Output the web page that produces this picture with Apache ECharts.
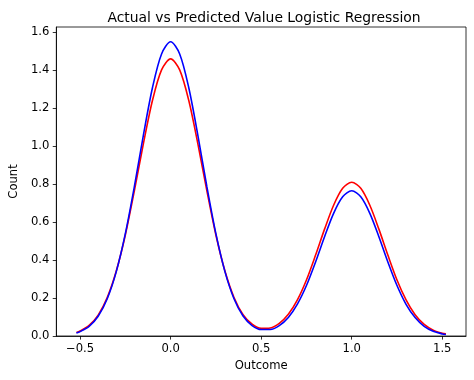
<!DOCTYPE html>
<html>
<head>
<meta charset="utf-8">
<script src="https://cdn.jsdelivr.net/npm/echarts@6/dist/echarts.min.js"></script>
<style>html,body{margin:0;padding:0;background:#fff;}#c{width:474px;height:380px;}</style>
</head>
<body>
<div id="c"></div>
<script>
const titleText = 'Actual vs Predicted Value Logistic Regression';
const xValues = [-0.52,-0.5,-0.45,-0.4,-0.35,-0.3,-0.25,-0.2,-0.15,-0.1,-0.05,0,0.05,0.1,0.15,0.2,0.25,0.3,0.35,0.4,0.45,0.5,0.55,0.6,0.65,0.7,0.75,0.8,0.85,0.9,0.95,1.0,1.05,1.1,1.15,1.2,1.25,1.3,1.35,1.4,1.45,1.5,1.52];
const actualValues = [0.018,0.026,0.056,0.110,0.202,0.342,0.532,0.766,1.015,1.242,1.402,1.460,1.402,1.242,1.015,0.766,0.532,0.342,0.203,0.112,0.062,0.040,0.042,0.066,0.114,0.190,0.295,0.425,0.563,0.689,0.778,0.810,0.778,0.689,0.563,0.425,0.295,0.190,0.112,0.061,0.031,0.014,0.011];
const predictedValues = [0.016,0.023,0.051,0.104,0.196,0.339,0.539,0.788,1.060,1.309,1.486,1.550,1.486,1.309,1.060,0.788,0.539,0.339,0.196,0.105,0.055,0.034,0.034,0.055,0.098,0.168,0.266,0.389,0.523,0.646,0.733,0.765,0.733,0.646,0.523,0.389,0.266,0.167,0.097,0.051,0.025,0.011,0.008];
const xTicks = [-0.5, 0, 0.5, 1.0, 1.5];
const yTicks = [0, 0.2, 0.4, 0.6, 0.8, 1.0, 1.2, 1.4, 1.6];

const font = 'DejaVu Sans';
const fmt = v => v.toFixed(1).replace('-', '\u2212');
const chart = echarts.init(document.getElementById('c'), null, {renderer: 'canvas'});
chart.setOption({
  animation: false,
  backgroundColor: '#fff',
  title: {
    text: titleText, left: 259, top: 6, textAlign: 'center',
    textStyle: {fontFamily: font, fontSize: 13.9, fontWeight: 'normal', color: '#000'}
  },
  grid: {left: 52, right: 8, top: 27, bottom: 44, show: true, borderColor: '#000', borderWidth: 0.8, containLabel: false},
  xAxis: {
    type: 'value', min: -0.631, max: 1.631,
    name: 'Outcome', nameLocation: 'middle', nameGap: 21,
    nameTextStyle: {fontFamily: font, fontSize: 11.6, color: '#000'},
    axisLine: {show: true, onZero: false, lineStyle: {color: '#000', width: 0.8}},
    axisTick: {show: true, length: 3.6, customValues: xTicks, lineStyle: {color: '#000', width: 0.8}},
    axisLabel: {customValues: xTicks, formatter: fmt, margin: 7, fontFamily: font, fontSize: 11.6, color: '#000'},
    splitLine: {show: false}
  },
  yAxis: {
    type: 'value', min: 0, max: 1.628,
    name: 'Count', nameLocation: 'middle', nameGap: 31,
    nameTextStyle: {fontFamily: font, fontSize: 11.6, color: '#000'},
    axisLine: {show: true, onZero: false, lineStyle: {color: '#000', width: 0.8}},
    axisTick: {show: true, length: 3.6, customValues: yTicks, lineStyle: {color: '#000', width: 0.8}},
    axisLabel: {customValues: yTicks, formatter: fmt, margin: 7, fontFamily: font, fontSize: 11.6, color: '#000'},
    splitLine: {show: false}
  },
  series: [
    {type: 'line', name: 'Actual', data: xValues.map((x, i) => [x, actualValues[i]]), smooth: 0.3, showSymbol: false, lineStyle: {color: '#ff0000', width: 1.6}, z: 2},
    {type: 'line', name: 'Predicted', data: xValues.map((x, i) => [x, predictedValues[i]]), smooth: 0.3, showSymbol: false, lineStyle: {color: '#0000ff', width: 1.6}, z: 3}
  ]
});
</script>
</body>
</html>
